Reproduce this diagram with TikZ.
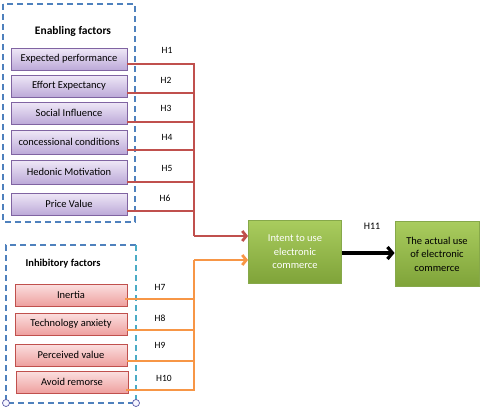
\documentclass[tikz,border=0pt]{standalone}
\usepackage{fontspec}
\setmainfont{Carlito}
\usetikzlibrary{arrows.meta}

\definecolor{grpblue}{HTML}{4F81BD}
\definecolor{grpcyan}{HTML}{4BACC6}
\definecolor{purpborder}{HTML}{8064A2}
\definecolor{purptop}{HTML}{EFE8F7}
\definecolor{purpbot}{HTML}{BCA9D8}
\definecolor{pinkborder}{HTML}{C0504D}
\definecolor{pinktop}{HTML}{FBE0E0}
\definecolor{pinkbot}{HTML}{EE9F9E}
\definecolor{greenborder}{HTML}{86A84A}
\definecolor{greentop}{HTML}{A9CC5E}
\definecolor{greenbot}{HTML}{7FA339}
\definecolor{redline}{HTML}{C0504D}
\definecolor{orangeline}{HTML}{F79646}

\tikzset{
  groupbox/.style={draw=grpblue, line width=1.4pt, dash pattern=on 6pt off 4pt},
  enabling/.style={draw=purpborder, line width=0.9pt, top color=purptop,
    bottom color=purpbot, minimum width=116pt, minimum height=22pt, inner sep=1pt},
  inhibit/.style={draw=pinkborder, line width=0.9pt, top color=pinktop,
    bottom color=pinkbot, minimum width=112pt, minimum height=22pt, inner sep=1pt},
  outcome/.style={draw=greenborder, line width=0.9pt, top color=greentop,
    bottom color=greenbot, align=center, inner sep=1pt,
    font=\fontsize{10.5}{13.5}\selectfont},
  redwire/.style={draw=redline, line width=2.8pt},
  orangewire/.style={draw=orangeline, line width=2.8pt},
  hlabel/.style={font=\fontsize{9.5}{11}\selectfont},
  handle/.style={draw=gray!70!blue, fill=blue!4, line width=0.7pt}
}

\begin{document}
\begin{tikzpicture}[x=1pt, y=-1pt, font=\fontsize{10.5}{12}\selectfont]
  \useasboundingbox (0,0) rectangle (480,410);

  % enabling factors
  \draw[groupbox] (3,4) rectangle (135,222);
  \node[font=\fontsize{11.5}{13}\selectfont\bfseries] (etitle) at (73,31) {Enabling factors};
  \node[enabling] (e1) at (69,59) {Expected performance};
  \node[enabling] (e2) at (69,86) {Effort Expectancy};
  \node[enabling] (e3) at (69,113) {Social Influence};
  \node[enabling, minimum height=24pt] (e4) at (69,142) {concessional conditions};
  \node[enabling, minimum height=24pt] (e5) at (69,172) {Hedonic Motivation};
  \node[enabling] (e6) at (69,204) {Price Value};

  % inhibitory factors
  \draw[groupbox] (136,245) -- (6,245) -- (6,403) -- (136,403);
  \draw[groupbox, draw=grpcyan] (136,245) -- (136,403);
  \draw[handle] (6,403) circle (3.5pt);
  \draw[handle] (136,403) circle (3.5pt);
  \node[font=\fontsize{10.5}{12}\selectfont\bfseries] (ititle) at (63,264) {Inhibitory factors};
  \node[inhibit] (i1) at (71,295) {Inertia};
  \node[inhibit] (i2) at (71,324) {Technology anxiety};
  \node[inhibit] (i3) at (71,355) {Perceived value};
  \node[inhibit] (i4) at (72,382) {Avoid remorse};

  % outcomes
  \node[outcome, minimum width=93pt, minimum height=63pt, text=white] (intent) at (295,252)
    {Intent to use\\electronic\\commerce};
  \node[outcome, minimum width=84pt, minimum height=65pt] (actual) at (437,254)
    {The actual use\\of electronic\\commerce};

  \coordinate (rjoin) at (194,236);
  \coordinate (ojoin) at (194,260);

  % red bus
  \draw[redwire] ([yshift=-5pt]e1.east) -| (rjoin);
  \draw[redwire] ([yshift=-7pt]e2.east) -- ([yshift=-7pt]e2.east -| rjoin);
  \draw[redwire] ([yshift=-9pt]e3.east) -- ([yshift=-9pt]e3.east -| rjoin);
  \draw[redwire] ([yshift=-8pt]e4.east) -- ([yshift=-8pt]e4.east -| rjoin);
  \draw[redwire] ([yshift=-10pt]e5.east) -- ([yshift=-10pt]e5.east -| rjoin);
  \draw[redwire] ([yshift=-7pt]e6.east) -- ([yshift=-7pt]e6.east -| rjoin);
  \draw[redwire, -{Straight Barb[length=4pt, width=10pt]}] (rjoin) -- (rjoin -| intent.west);

  % orange bus
  \draw[orangewire] ([xshift=-2pt, yshift=-8pt]i4.east) -| (ojoin);
  \draw[orangewire] ([xshift=-2pt, yshift=-4pt]i1.east) -- ([yshift=-4pt]i1.east -| ojoin);
  \draw[orangewire] ([yshift=-6pt]i2.east) -- ([yshift=-6pt]i2.east -| ojoin);
  \draw[orangewire] ([yshift=-6pt]i3.east) -- ([yshift=-6pt]i3.east -| ojoin);
  \draw[orangewire, -{Straight Barb[length=4pt, width=10pt]}] (ojoin) -- (ojoin -| intent.west);

  % to actual use
  \draw[line width=3.2pt, -{Straight Barb[length=5pt, width=12pt]}] (intent.east |- 0,253) -- (actual.west |- 0,253);

  % hypotheses
  \node[hlabel] (h1) at (167,50) {H1};
  \node[hlabel] (h2) at (166,80) {H2};
  \node[hlabel] (h3) at (166,108) {H3};
  \node[hlabel] (h4) at (167,137) {H4};
  \node[hlabel] (h5) at (167,168) {H5};
  \node[hlabel] (h6) at (165,198) {H6};
  \node[hlabel] (h7) at (160,287) {H7};
  \node[hlabel] (h8) at (160,318) {H8};
  \node[hlabel] (h9) at (160,345) {H9};
  \node[hlabel] (h10) at (164,378) {H10};
  \node[hlabel, font=\fontsize{10}{11}\selectfont] (h11) at (372,226) {H11};
\end{tikzpicture}
\end{document}
